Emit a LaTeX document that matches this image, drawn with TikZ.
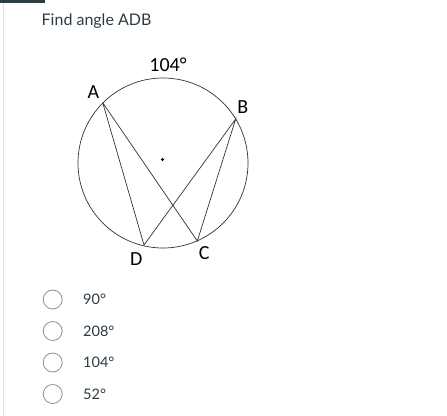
\documentclass[tikz,border=0pt]{standalone}
\usepackage{fontspec}
\setmainfont{Lato}
\newfontfamily\calib{Carlito}
\definecolor{canvastext}{HTML}{2D3B45}
\definecolor{radiogray}{HTML}{8A8F94}
\begin{document}
\begin{tikzpicture}[x=1pt,y=-1pt,
  ui/.style={font=\fontsize{16}{18}\selectfont, text=canvastext, inner sep=0pt},
  opt/.style={font=\fontsize{14.5}{16}\selectfont, text=canvastext, inner sep=0pt, anchor=west},
  radio/.style={circle, draw=radiogray, line width=0.8pt, minimum size=19pt, inner sep=0pt},
  lbl/.style={font=\calib\fontsize{20}{22}\selectfont, text=black, inner sep=0pt},
  chord/.style={draw=black!80, line width=0.7pt}]
\useasboundingbox (0,0) rectangle (447,415);
\fill[white] (0,0) rectangle (447,415);
\fill[canvastext] (0,0) rectangle (45,3);
\fill[black!12] (2.6,3) rectangle (4.4,415);
\node[ui, anchor=west] (title) at (41.5,21.5) {Find angle ADB};
% circle
\node[circle, draw=black!80, line width=0.7pt, minimum size=170pt, inner sep=0pt] (circ) at (163,163) {};
\fill (162.5,159.5) circle (1.6);
\coordinate (A) at (102.7,102.7);
\coordinate (B) at (235.7,119);
\coordinate (D) at (144,245);
\coordinate (C) at (197.3,241);
\draw[chord] (A) -- (D) -- (B) -- (C) -- (A);
\node[lbl] (lA) at (93.3,92.3) {A};
\node[lbl] (lB) at (242.7,106.7) {B};
\node[lbl] (lD) at (136.3,259) {D};
\node[lbl] (lC) at (204.3,252.7) {C};
\node[lbl] (arc) at (168,65) {104°};
% options
\node[radio] (r1) at (52.7,299.5) {};
\node[radio] (r2) at (52.7,331) {};
\node[radio] (r3) at (52.7,362.5) {};
\node[radio] (r4) at (52.7,394) {};
\node[opt] (o1) at (83,299.5) {90°};
\node[opt] (o2) at (83,331) {208°};
\node[opt] (o3) at (83,362.5) {104°};
\node[opt] (o4) at (83,394) {52°};
\end{tikzpicture}
\end{document}
